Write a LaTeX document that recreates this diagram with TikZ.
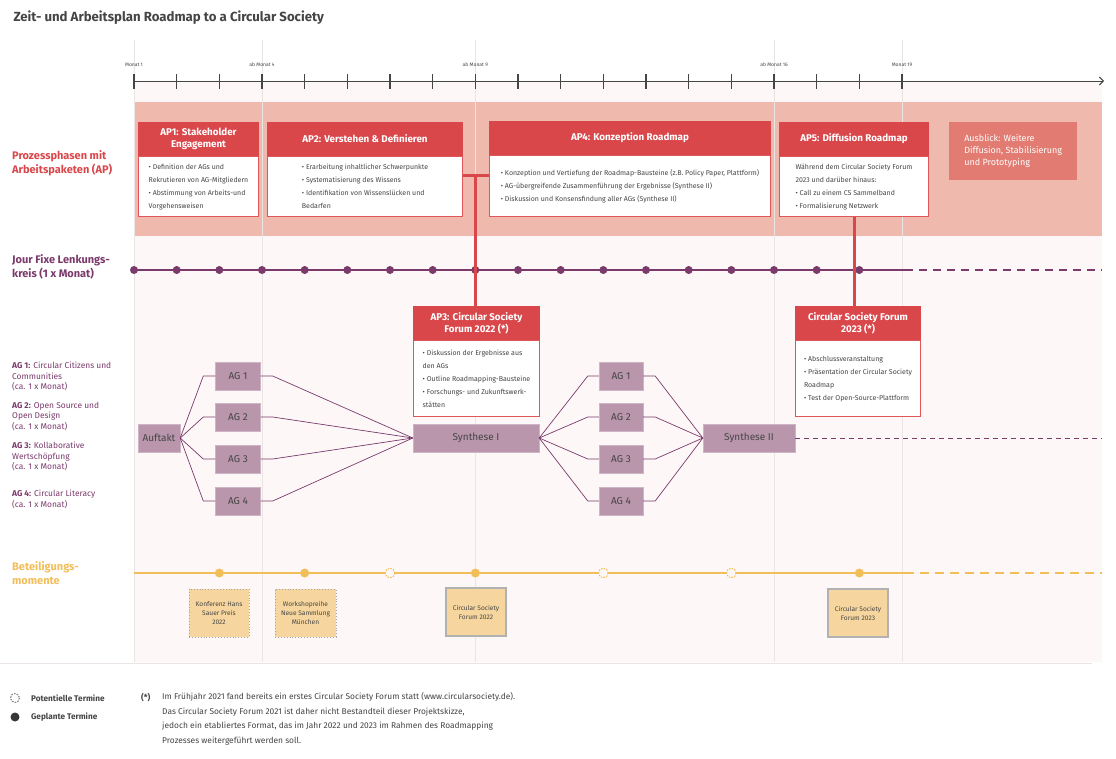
\documentclass[tikz,border=0pt]{standalone}
\usepackage{fontspec}
\setmainfont{Fira Sans}
\usetikzlibrary{positioning, arrows.meta, calc}

\definecolor{apred}{HTML}{D9474B}
\definecolor{apline}{HTML}{E0575A}
\definecolor{band}{HTML}{F0B9AD}
\definecolor{outlook}{HTML}{E27B71}
\definecolor{paper}{HTML}{FDF8F7}
\definecolor{jfix}{HTML}{7B3A6C}
\definecolor{mauve}{HTML}{B996AC}
\definecolor{part}{HTML}{F2BE5A}
\definecolor{partbox}{HTML}{F6D69E}
\definecolor{gridc}{HTML}{EAE4E4}
\definecolor{ink}{HTML}{454545}
\newcommand{\fs}[2]{\fontsize{#1}{#2}\selectfont}

\begin{document}
\begin{tikzpicture}[x=1pt, y=-1pt,
	aphead/.style={fill=apred, draw=apred, line width=1pt, text=white, font=\fs{9.8}{12}\bfseries, align=center, anchor=north west, inner sep=0pt, minimum height=33},
	apbody/.style={fill=white, draw=apline, line width=1.3pt, text=ink, font=\fs{7}{13}, align=left, anchor=north, inner sep=0pt},
	apwire/.style={draw=apred, line width=3pt},
	agnode/.style={fill=mauve, draw=mauve!70!white, text=ink, font=\fs{10}{11}, minimum height=28, inner sep=0pt},
	flow/.style={draw=jfix, line width=0.7pt},
	sidelabel/.style={anchor=north west, align=left, inner sep=0pt, font=\fs{11}{14.5}\bfseries},
	aglabel/.style={anchor=north west, align=left, inner sep=0pt, text=jfix, font=\fs{8.4}{10.4}},
	event/.style={fill=partbox, text=ink, font=\fs{6.6}{9}, align=center, minimum height=48, inner sep=0pt},
	maybe/.style={dash pattern=on 1.6pt off 1.2pt, line width=1pt},
	monthlabel/.style={font=\fs{5}{6}, text=ink}]
	\fill[white] (0,0) rectangle (1116,758);
	\useasboundingbox (0,0) rectangle (1116,758);
	% background areas
	\fill[paper] (134,81) rectangle (1102,662);
	\fill[band] (134,102) rectangle (1102,236);
	\foreach \gx in {134,262,475,774,902}
		\draw[gridc, line width=0.8pt] (\gx,40) -- (\gx,662);
	\draw[gridc, line width=1pt] (0,663) -- (1092,663);
	\node[anchor=west, font=\fs{13.2}{15}\bfseries, text=ink] (title) at (10,18) {Zeit- und Arbeitsplan Roadmap to a Circular Society};
	% time axis
	\draw[ink, line width=0.9pt, -{Straight Barb[length=4pt, width=8pt]}] (134,81) -- (1104,81);
	\foreach \m in {0,...,18}
		\draw[ink, line width=1.4pt] ({134+\m*42.667},74) -- ({134+\m*42.667},89);
	\foreach \m/\t in {0/Monat 1, 3/ab Monat 4, 8/ab Monat 9, 15/ab Monat 16, 18/Monat 19}
		\node[monthlabel] (m\m) at ({134+\m*42.667},65) {\t};
	% row labels
	\node[sidelabel, text=apred] (lblap) at (12,150) {Prozessphasen mit\\Arbeitspaketen (AP)};
	\node[sidelabel, text=jfix] (lbljf) at (12,254) {Jour Fixe Lenkungs-\\kreis (1 x Monat)};
	\node[sidelabel, text=part] (lblbt) at (12,561) {Beteiligungs-\\momente};
	\node[aglabel] (lblag1) at (12,362) {\textbf{AG 1:} Circular Citizens und\\Communities\\(ca. 1 x Monat)};
	\node[aglabel] (lblag2) at (12,402) {\textbf{AG 2:} Open Source und\\Open Design\\(ca. 1 x Monat)};
	\node[aglabel] (lblag3) at (12,442) {\textbf{AG 3:} Kollaborative\\Wertschöpfung\\(ca. 1 x Monat)};
	\node[aglabel] (lblag4) at (12,490) {\textbf{AG 4:} Circular Literacy\\(ca. 1 x Monat)};
	% jour fixe
	\draw[jfix, line width=2pt] (134,270) -- (905,270);
	\draw[jfix, line width=2pt, dash pattern=on 8pt off 6pt] (905,270) -- (1102,270);
	\foreach \m in {0,...,17}
		\fill[jfix] ({134+\m*42.667},270) circle (4);
	% work packages
	\node[aphead, minimum width=120] (ap1h) at (138,122) {AP1: Stakeholder\\Engagement};
	\node[apbody, minimum width=120, minimum height=60] (ap1b) at (ap1h.south) {• Definition der AGs und\\Rekrutieren von AG-Mitgliedern\\• Abstimmung von Arbeits-und\\Vorgehensweisen};
	\node[aphead, minimum width=195] (ap2h) at (267,122) {AP2: Verstehen \& Definieren};
	\node[apbody, minimum width=195, minimum height=60] (ap2b) at (ap2h.south) {• Erarbeitung inhaltlicher Schwerpunkte\\• Systematisierung des Wissens\\• Identifikation von Wissenslücken und\\Bedarfen};
	\node[aphead, minimum width=281] (ap4h) at (489,121) {AP4: Konzeption Roadmap};
	\node[apbody, minimum width=281, minimum height=61] (ap4b) at (ap4h.south) {• Konzeption und Vertiefung der Roadmap-Bausteine (z.B. Policy Paper, Plattform)\\• AG-übergreifende Zusammenführung der Ergebnisse (Synthese II)\\• Diskussion und Konsensfindung aller AGs (Synthese II)};
	\node[aphead, minimum width=149] (ap5h) at (779,122) {AP5: Diffusion Roadmap};
	\node[apbody, minimum width=149, minimum height=60] (ap5b) at (ap5h.south) {Während dem Circular Society Forum\\2023 und darüber hinaus:\\• Call zu einem CS Sammelband\\• Formalisierung Netzwerk};
	\node[fill=outlook, text=white, font=\fs{9}{12}, align=left, anchor=north west, inner sep=0pt, minimum width=128, minimum height=58] (outlook) at (949,122) {Ausblick: Weitere\\Diffusion, Stabilisierung\\und Prototyping};
	\node[aphead, minimum width=126] (ap3h) at (413,306) {AP3: Circular Society\\Forum 2022 (*)};
	\node[apbody, minimum width=126, minimum height=76] (ap3b) at (ap3h.south) {• Diskussion der Ergebnisse aus\\den AGs\\• Outline Roadmapping-Bausteine\\• Forschungs- und Zukunftswerk-\\stätten};
	\node[aphead, minimum width=125] (csf23h) at (795,306) {Circular Society Forum\\2023 (*)};
	\node[apbody, minimum width=125, minimum height=76] (csf23b) at (csf23h.south) {• Abschlussveranstaltung\\• Präsentation der Circular Society\\Roadmap\\• Test der Open-Source-Plattform};
	\coordinate (apjoin) at (475,175);
	\draw[apwire] (ap2b.east |- apjoin) -- (ap4b.west |- apjoin);
	\draw[apwire] (apjoin) -- (ap3h.north -| apjoin);
	\draw[apwire] (ap5b.south) -- (ap5b.south |- csf23h.north);
	% working groups
	\node[agnode, minimum width=42] (auftakt) at (159,438) {Auftakt};
	\node[agnode, minimum width=126] (syn1) at (476,438) {Synthese I};
	\node[agnode, minimum width=92] (syn2) at (749,438) {Synthese II};
	\foreach \i/\y in {1/376,2/417,3/459,4/501} {
		\node[agnode, minimum width=45] (agl\i) at (238,\y) {AG \i};
		\node[agnode, minimum width=44] (agr\i) at (621,\y) {AG \i};
		\draw[flow] (auftakt.east) -- ([xshift=-12pt]agl\i.west) -- (agl\i.west);
		\draw[flow] (agl\i.east) -- ([xshift=12pt]agl\i.east) -- (syn1.west);
		\draw[flow] (syn1.east) -- ([xshift=-11pt]agr\i.west) -- (agr\i.west);
		\draw[flow] (agr\i.east) -- ([xshift=12pt]agr\i.east) -- (syn2.west);
	}
	\coordinate (synend) at (1102,438);
	\draw[flow, dash pattern=on 5pt off 4pt] (syn2.east) -- (synend);
	% participation
	\draw[part, line width=2pt] (134,573) -- (905,573);
	\draw[part, line width=2pt, dash pattern=on 9pt off 6pt] (905,573) -- (1102,573);
	\foreach \m in {2,4,8,17}
		\fill[part] ({134+\m*42.667},573) circle (4.5);
	\foreach \m in {6,11,14}
		\draw[part, maybe, fill=paper] ({134+\m*42.667},573) circle (4.8);
	\node[event, draw=gray!70, dotted, line width=0.9pt, minimum width=60] (evhsp) at (219,613) {Konferenz Hans\\Sauer Preis\\2022};
	\node[event, draw=gray!70, dotted, line width=0.9pt, minimum width=61] (evns) at (305.5,613) {Workshopreihe\\Neue Sammlung\\München};
	\node[event, draw=gray!60, line width=1.2pt, minimum width=60] (evcsf22) at (476,612) {Circular Society\\Forum 2022};
	\node[event, draw=gray!60, line width=1.2pt, minimum width=60] (evcsf23) at (858,613) {Circular Society\\Forum 2023};
	% legend
	\draw[ink!70, maybe] (15,698) circle (4.5);
	\fill[ink!80!black] (15,717) circle (4.5);
	\node[anchor=west, inner sep=0pt, font=\fs{8.2}{9}\bfseries, text=ink] (lgpot) at (31,698) {Potentielle Termine};
	\node[anchor=west, inner sep=0pt, font=\fs{8.2}{9}\bfseries, text=ink] (lgplan) at (31,717) {Geplante Termine};
	\node[anchor=west, inner sep=0pt, font=\fs{8.4}{9}\bfseries, text=ink] (lgstar) at (141,698) {(*)};
	\node[anchor=north west, inner sep=0pt, align=left, font=\fs{8.4}{14.5}, text=ink] (note) at (162,692.5) {Im Frühjahr 2021 fand bereits ein erstes Circular Society Forum statt (www.circularsociety.de).\\Das Circular Society Forum 2021 ist daher nicht Bestandteil dieser Projektskizze,\\jedoch ein etabliertes Format, das im Jahr 2022 und 2023 im Rahmen des Roadmapping\\Prozesses weitergeführt werden soll.};
\end{tikzpicture}
\end{document}
